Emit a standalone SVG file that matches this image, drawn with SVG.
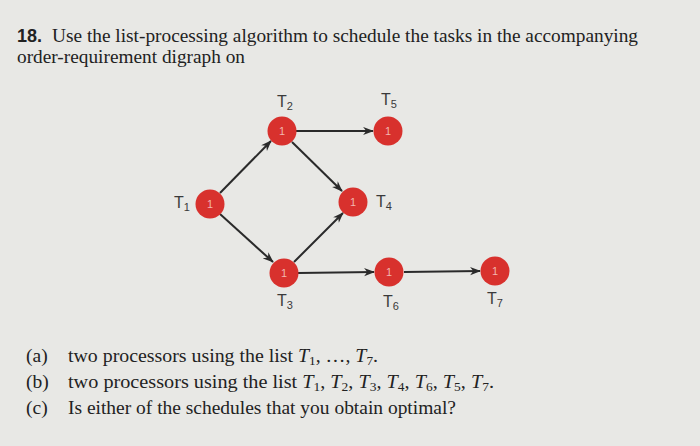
<svg xmlns="http://www.w3.org/2000/svg" width="700" height="446" viewBox="0 0 700 446">
<defs>
<marker id="arr" viewBox="0 0 12 10" refX="11" refY="5" markerWidth="11" markerHeight="9" markerUnits="userSpaceOnUse" orient="auto">
<path d="M0,0.5 L12,5 L0,9.5 L3.5,5 Z" fill="#2a2a2a"/>
</marker>
</defs>
<style>
.bg{fill:#e8e8e5}
.q{font-family:"Liberation Serif","Times New Roman",serif;font-size:18px;fill:#222}
.qq{font-family:"Liberation Serif","Times New Roman",serif;font-size:19.5px;fill:#222}
.qi{font-style:italic}
.sub{font-size:13px}
.node circle{fill:#d8312d}
.node .v{font-family:"Liberation Sans",Arial,sans-serif;font-size:11px;fill:#f2b5b0;text-anchor:middle}
.lbl{font-family:"Liberation Sans",Arial,sans-serif;font-size:16px;fill:#3a3a3a;text-anchor:middle}
.lbl tspan.s{font-size:11px}
.edge{stroke:#2a2a2a;stroke-width:2;fill:none;marker-end:url(#arr)}
</style>
<rect class="bg" x="0" y="0" width="700" height="446"/>
<g id="header">
<text x="17" y="42" style="font-family:'Liberation Sans',Arial,sans-serif;font-weight:bold;font-size:18px;fill:#222">18.</text>
<text class="q" x="52" y="42" textLength="586" lengthAdjust="spacingAndGlyphs">Use the list-processing algorithm to schedule the tasks in the accompanying</text>
<text class="q" x="17" y="63" textLength="228" lengthAdjust="spacingAndGlyphs">order-requirement digraph on</text>
</g>
<g id="connectors">
<line class="edge" x1="220" y1="193" x2="271" y2="141"/>
<line class="edge" x1="220" y1="214" x2="273" y2="262"/>
<line class="edge" x1="296" y1="131" x2="373" y2="131"/>
<line class="edge" x1="292" y1="142" x2="342" y2="191"/>
<line class="edge" x1="294" y1="262" x2="343" y2="213"/>
<line class="edge" x1="298" y1="273" x2="374" y2="272"/>
<line class="edge" x1="404" y1="272" x2="480" y2="271"/>
</g>
<g id="T1" class="node"><circle cx="210" cy="204" r="14.5"/><text class="v" x="210" y="208">1</text><text class="lbl" x="182" y="208">T<tspan class="s" dy="3">1</tspan></text></g>
<g id="T2" class="node"><circle cx="282" cy="131" r="14.5"/><text class="v" x="282" y="135">1</text><text class="lbl" x="285" y="107">T<tspan class="s" dy="3">2</tspan></text></g>
<g id="T5" class="node"><circle cx="388" cy="131" r="14.5"/><text class="v" x="388" y="135">1</text><text class="lbl" x="389" y="105">T<tspan class="s" dy="3">5</tspan></text></g>
<g id="T4" class="node"><circle cx="353" cy="202" r="14.5"/><text class="v" x="353" y="206">1</text><text class="lbl" x="384" y="207">T<tspan class="s" dy="3">4</tspan></text></g>
<g id="T3" class="node"><circle cx="284" cy="273" r="14.5"/><text class="v" x="284" y="277">1</text><text class="lbl" x="285" y="306">T<tspan class="s" dy="3">3</tspan></text></g>
<g id="T6" class="node"><circle cx="389" cy="272" r="14.5"/><text class="v" x="389" y="276">1</text><text class="lbl" x="391" y="307">T<tspan class="s" dy="3">6</tspan></text></g>
<g id="T7" class="node"><circle cx="495" cy="271" r="14.5"/><text class="v" x="495" y="275">1</text><text class="lbl" x="495" y="304">T<tspan class="s" dy="3">7</tspan></text></g>
<g id="questions">
<text class="qq" x="26" y="362">(a)</text>
<text class="qq" x="68" y="362" textLength="310" lengthAdjust="spacingAndGlyphs">two processors using the list <tspan class="qi">T</tspan><tspan class="sub" dy="3">1</tspan><tspan dy="-3">, …, </tspan><tspan class="qi">T</tspan><tspan class="sub" dy="3">7</tspan><tspan dy="-3">.</tspan></text>
<text class="qq" x="26" y="388">(b)</text>
<text class="qq" x="68" y="388" textLength="426" lengthAdjust="spacingAndGlyphs">two processors using the list <tspan class="qi">T</tspan><tspan class="sub" dy="3">1</tspan><tspan dy="-3">, </tspan><tspan class="qi">T</tspan><tspan class="sub" dy="3">2</tspan><tspan dy="-3">, </tspan><tspan class="qi">T</tspan><tspan class="sub" dy="3">3</tspan><tspan dy="-3">, </tspan><tspan class="qi">T</tspan><tspan class="sub" dy="3">4</tspan><tspan dy="-3">, </tspan><tspan class="qi">T</tspan><tspan class="sub" dy="3">6</tspan><tspan dy="-3">, </tspan><tspan class="qi">T</tspan><tspan class="sub" dy="3">5</tspan><tspan dy="-3">, </tspan><tspan class="qi">T</tspan><tspan class="sub" dy="3">7</tspan><tspan dy="-3">.</tspan></text>
<text class="qq" x="26" y="414">(c)</text>
<text class="qq" x="68" y="414" textLength="388" lengthAdjust="spacingAndGlyphs">Is either of the schedules that you obtain optimal?</text>
</g>
</svg>
